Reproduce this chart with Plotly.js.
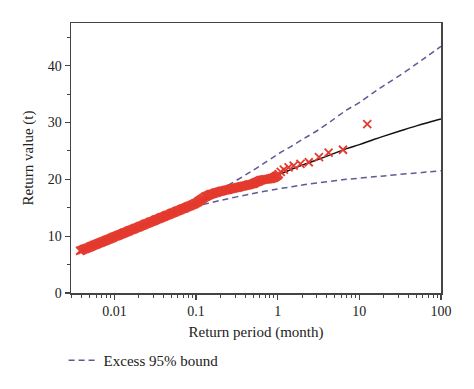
<!DOCTYPE html>
<html>
<head>
<meta charset="utf-8">
<script src="https://cdn.plot.ly/plotly-3.0.1.min.js"></script>
<style>html,body{margin:0;padding:0;background:#fff;}#chart{width:474px;height:389px;}</style>
</head>
<body>
<div id="chart"></div>
<script>
// Empirical return levels (red crosses)
var obsPeriod = [0.0038,0.00393,0.00407,0.00422,0.00437,0.00452,0.00468,0.00484,0.00501,0.00519,0.00537,0.00556,0.00575,0.00596,0.00617,0.00638,0.00661,0.00684,0.00708,0.00733,0.00759,0.00785,0.00813,0.00841,0.00871,0.00902,0.00933,0.00966,0.0100,0.01035,0.0107,0.0111,0.0115,0.0119,0.0123,0.0127,0.0132,0.0136,0.0141,0.0146,0.0151,0.0157,0.0162,0.0168,0.0174,0.0180,0.0186,0.0193,0.0200,0.0207,0.0214,0.0221,0.0229,0.0237,0.0246,0.0254,0.0263,0.0273,0.0282,0.0292,0.0302,0.0313,0.0324,0.0335,0.0347,0.0359,0.0372,0.0385,0.0398,0.0412,0.0427,0.0442,0.0457,0.0473,0.0490,0.0507,0.0525,0.0543,0.0562,0.0582,0.0603,0.0624,0.0646,0.0668,0.0692,0.0716,0.0741,0.0767,0.0794,0.0822,0.0851,0.0881,0.0912,0.0944,0.0977,0.101,0.105,0.108,0.112,0.116,0.120,0.124,0.129,0.133,0.138,0.143,0.148,0.153,0.158,0.164,0.170,0.176,0.182,0.188,0.195,0.202,0.209,0.216,0.224,0.232,0.240,0.248,0.257,0.266,0.275,0.285,0.295,0.305,0.316,0.327,0.339,0.351,0.363,0.376,0.389,0.403,0.417,0.432,0.447,0.462,0.479,0.496,0.513,0.531,0.55,0.57,0.59,0.61,0.63,0.65,0.67,0.70,0.72,0.75,0.77,0.80,0.82,0.85,0.87,0.90,0.92,0.95,0.97,1.00,1.03,1.09,1.19,1.36,1.57,1.9,2.4,3.2,4.2,6.3,12.5];
var obsValue = [7.4,7.5,7.6,7.7,7.75,7.85,7.95,8.0,8.1,8.2,8.3,8.4,8.45,8.55,8.65,8.75,8.8,8.9,9.0,9.1,9.15,9.25,9.35,9.45,9.5,9.6,9.7,9.8,9.9,9.95,10.05,10.15,10.25,10.3,10.4,10.5,10.6,10.65,10.75,10.85,10.95,11.05,11.1,11.2,11.3,11.4,11.45,11.55,11.65,11.75,11.8,11.9,12.0,12.1,12.2,12.25,12.35,12.45,12.55,12.6,12.7,12.8,12.9,13.0,13.05,13.15,13.25,13.35,13.4,13.5,13.6,13.7,13.75,13.85,13.95,14.05,14.15,14.2,14.3,14.4,14.5,14.55,14.65,14.75,14.85,14.9,15.0,15.1,15.2,15.3,15.35,15.45,15.55,15.65,15.75,15.85,16.0,16.15,16.3,16.45,16.6,16.75,16.9,17.0,17.1,17.2,17.3,17.4,17.45,17.5,17.6,17.65,17.7,17.8,17.85,17.9,17.95,18.0,18.05,18.1,18.15,18.2,18.25,18.3,18.35,18.4,18.45,18.5,18.55,18.6,18.65,18.7,18.75,18.8,18.85,18.9,18.95,19.0,19.05,19.1,19.15,19.2,19.3,19.4,19.5,19.6,19.7,19.8,19.85,19.9,19.95,20.0,20.0,20.05,20.05,20.1,20.1,20.2,20.2,20.3,20.4,20.5,20.6,20.7,20.9,21.3,21.7,22.1,22.4,22.7,23.0,23.9,24.7,25.2,29.7];

// Fitted return level curve and 95% bounds
var fitPeriod  = [0.07,0.1,0.2,0.5,1,1.5,2,3,5,7,10,15,20,30,50,70,100];
var fitValue   = [15.0,15.7,17.4,19.4,20.8,21.8,22.5,23.4,24.6,25.4,26.1,27.0,27.6,28.4,29.4,30.0,30.6];
var upperValue = [15.0,16.0,18.2,21.6,24.4,25.9,27.0,28.5,30.7,32.2,33.5,35.3,36.5,38.1,40.3,41.8,43.4];
var lowerValue = [15.0,15.3,16.3,17.5,18.3,18.7,19.0,19.35,19.75,20.0,20.2,20.45,20.6,20.85,21.1,21.3,21.5];

var xTicks = [0.01,0.1,1,10,100];
var xTickText = ['0.01','0.1','1','10','100'];
var yTicks = [0,10,20,30,40];

var dashColor = '#5b5b98';
var traces = [
  {x: fitPeriod, y: upperValue, mode: 'lines', name: 'Excess 95% bound',
   line: {color: dashColor, width: 1.5, dash: '6px,4px', shape: 'spline'}, showlegend: true},
  {x: fitPeriod, y: lowerValue, mode: 'lines', name: 'lower',
   line: {color: dashColor, width: 1.5, dash: '6px,4px', shape: 'spline'}, showlegend: false},
  {x: fitPeriod, y: fitValue, mode: 'lines', name: 'fit',
   line: {color: '#111111', width: 1.5, shape: 'spline'}, showlegend: false},
  {x: obsPeriod, y: obsValue, mode: 'markers', name: 'obs',
   marker: {symbol: 'x-thin', size: 8, line: {color: '#e43a2e', width: 1.8}, color: '#e43a2e'},
   showlegend: false}
];

var layout = {
  width: 474, height: 389,
  margin: {l: 71, r: 33, t: 23, b: 96},
  paper_bgcolor: '#ffffff', plot_bgcolor: '#ffffff',
  font: {family: '"Liberation Serif", "DejaVu Serif", serif', size: 14, color: '#222222'},
  xaxis: {
    type: 'log', range: [Math.log10(0.00294), 2],
    tickvals: xTicks, ticktext: xTickText,
    ticks: 'outside', ticklen: 5, tickwidth: 1.3, tickcolor: '#444',
    minor: {ticks: 'outside', ticklen: 3, tickwidth: 1, tickcolor: '#444', dtick: 'D1'},
    showline: true, linecolor: '#444', linewidth: 1.5, mirror: true,
    showgrid: false, zeroline: false,
    tickfont: {size: 14},
    title: {text: 'Return period (month)', font: {size: 15}, standoff: 8}
  },
  yaxis: {
    range: [0, 47.5],
    tickvals: yTicks,
    ticks: 'outside', ticklen: 5, tickwidth: 1.3, tickcolor: '#444',
    minor: {ticks: 'outside', ticklen: 3, tickwidth: 1, tickcolor: '#444', dtick: 5},
    showline: true, linecolor: '#444', linewidth: 1.5, mirror: true,
    showgrid: false, zeroline: false,
    tickfont: {size: 14},
    title: {text: 'Return value (t)', font: {size: 15}, standoff: 10}
  },
  showlegend: true,
  legend: {x: -0.02, y: -0.25, xanchor: 'left', yanchor: 'middle',
           bgcolor: 'rgba(0,0,0,0)', font: {size: 15}}
};

Plotly.newPlot('chart', traces, layout, {displayModeBar: false, staticPlot: true});
</script>
</body>
</html>
